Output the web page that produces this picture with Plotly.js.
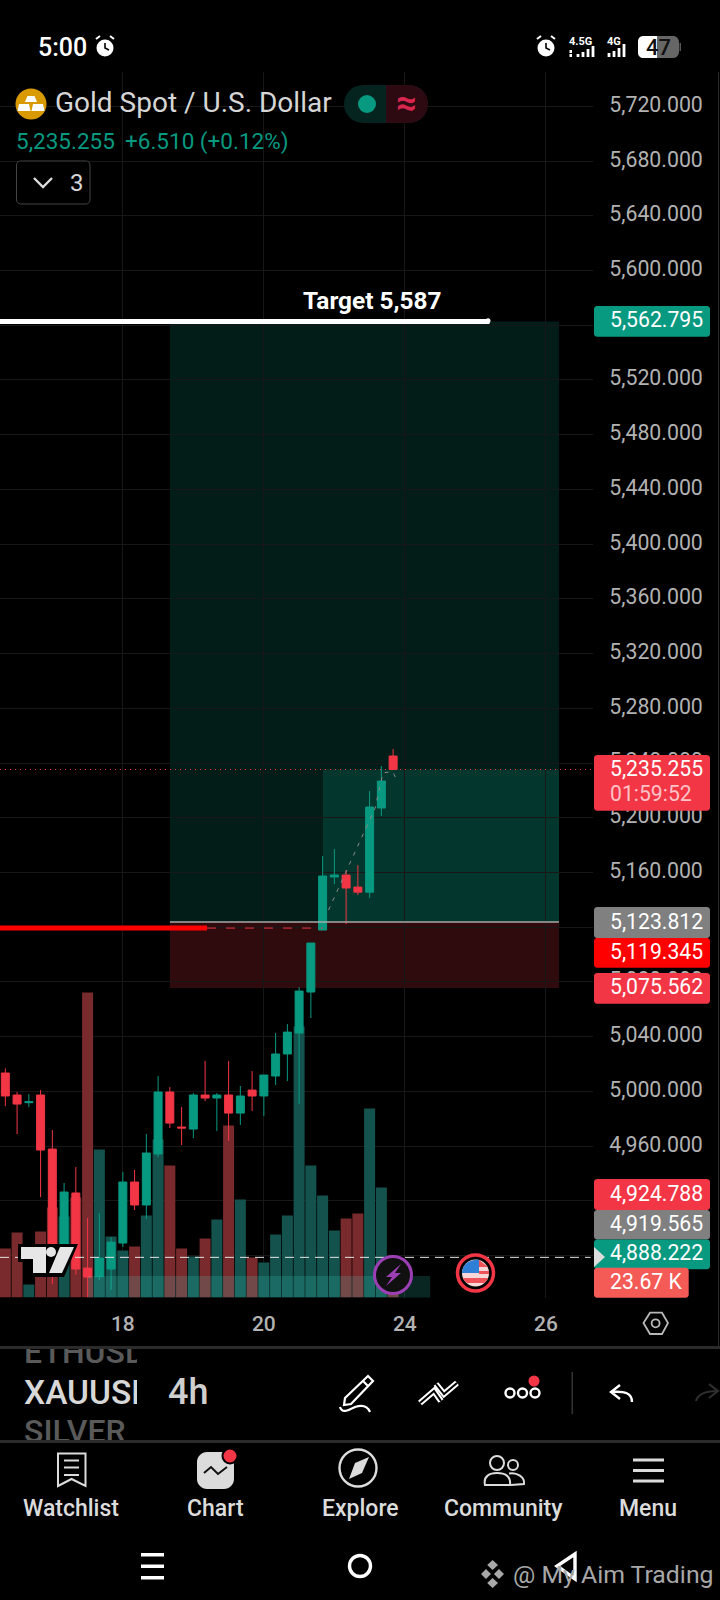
<!DOCTYPE html>
<html><head><meta charset="utf-8">
<script src="https://cdn.plot.ly/plotly-3.0.1.min.js"></script>
<style>html,body{margin:0;padding:0;background:#000}#c{width:720px;height:1600px}</style>
</head><body><div id="c"></div>
<script>
const candleIndex=[0,1,2,3,4,5,6,7,8,9,10,11,12,13,14,15,16,17,18,19,20,21,22,23,24,25,26,27,28,29,30,31,32,33];
const opens =[5013.4,4997.3,4991.7,4997.3,4957.8,4874.2,4925.7,4870.8,4864.5,4870.1,4889.1,4933.7,4916.9,4954.2,4999.5,4973.9,4972.4,4997.3,4995.1,4997.3,4984.1,5000.9,4996.6,5011.2,5027.3,5042.6,5072.6,5117.9,5156.7,5158.1,5149.3,5145.6,5207.1,5245.1];
const highs =[5016.8,4999.5,4998.0,5000.9,4971.7,4933.0,4944.7,4907.4,4911.0,4893.5,4941.0,4942.5,4968.8,5011.2,5003.1,4988.5,4998.7,5022.2,4998.7,5022.2,5003.9,5014.8,5011.9,5042.6,5049.2,5076.2,5108.4,5172.0,5177.1,5161.8,5165.4,5219.5,5237.8,5250.2];
const lows  =[4989.2,4968.8,4988.5,4922.7,4859.1,4868.0,4866.0,4849.4,4862.1,4854.7,4886.2,4913.2,4906.7,4952.0,4973.2,4960.7,4965.9,4992.9,4971.0,4963.7,4975.4,4985.6,4981.9,5004.6,5007.5,4990.7,5053.6,5117.9,5151.5,5122.3,5143.5,5141.3,5201.2,5235.255];
const closes=[4996.6,4990.7,4992.4,4957.1,4871.8,4926.4,4870.1,4864.2,4878.1,4889.8,4933.7,4916.9,4954.9,4999.5,4976.8,4973.2,4997.3,4995.1,4997.3,4984.1,4996.6,4996.6,5011.9,5027.3,5043.3,5073.3,5108.4,5157.4,5158.1,5148.6,5145.6,5207.8,5226.8,5235.255];
const volumes=[49,65,13,66,90,81,100,305,148,61,47,51,82,158,132,49,41,59,78,172,98,40,35,63,82,271,132,102,67,79,84,189,110,23.67];
const priceTicks=[4880,4920,4960,5000,5040,5080,5120,5160,5200,5240,5280,5320,5360,5400,5440,5480,5520,5560,5600,5640,5680,5720];
const priceTickLabels=priceTicks.map(v=>v.toLocaleString('en-US')+'.000');
const dayTicks=[10,22,34,46];
const dayLabels=['18','20','24','26'];
const targetPrice=5562.795, entryPrice=5123.812, stopPrice=5075.562, currentPrice=5235.255, redLevel=5119.345, whiteLevel=4878.65;
const projX=[27.5,31.46,32.14,32.96,33.36];
const projY=[5132.5,5206.9,5232.9,5233.6,5227];

const GREEN='#089981',RED='#f23645',TXT='#b2b2b2',NAV='#dcdcdc',FONT='Roboto',GRID='#171717';
const px=x=>x/720, py=y=>1-y/1600;
function P(d){let i=0;return d.replace(/-?\d+(\.\d+)?/g,m=>{const v=+m;return ((i++%2==0)?px(v):py(v)).toFixed(5)})}
const shapes=[],anns=[];
function S(d,fill,line,w){shapes.push({type:'path',xref:'paper',yref:'paper',layer:'above',path:P(d),fillcolor:fill||'rgba(0,0,0,0)',line:{color:line||'rgba(0,0,0,0)',width:line?(w||2):0}})}
function C(cx,cy,r,fill,line,w){shapes.push({type:'circle',xref:'paper',yref:'paper',layer:'above',x0:px(cx-r),x1:px(cx+r),y0:py(cy+r),y1:py(cy-r),fillcolor:fill||'rgba(0,0,0,0)',line:{color:line||'rgba(0,0,0,0)',width:line?(w||2):0}})}
function R(x0,y0,x1,y1,fill){shapes.push({type:'rect',xref:'paper',yref:'paper',layer:'above',x0:px(x0),x1:px(x1),y0:py(y1),y1:py(y0),fillcolor:fill,line:{width:0}})}
function RR(x0,y0,x1,y1,r,fill,line,w){const k=r*0.45;S(`M${x0+r},${y0} L${x1-r},${y0} C${x1-k},${y0} ${x1},${y0+k} ${x1},${y0+r} L${x1},${y1-r} C${x1},${y1-k} ${x1-k},${y1} ${x1-r},${y1} L${x0+r},${y1} C${x0+k},${y1} ${x0},${y1-k} ${x0},${y1-r} L${x0},${y0+r} C${x0},${y0+k} ${x0+k},${y0} ${x0+r},${y0} Z`,fill,line,w)}
function T(text,x,y,size,color,o){o=o||{};anns.push({text,x:px(x),y:py(y),xref:'paper',yref:'paper',xanchor:o.a||'left',yanchor:'middle',showarrow:false,font:{family:o.f||FONT,size,color,weight:o.w||400},borderpad:0})}
function M(x0,y0,x1,y1,col){anns.push({text:'&nbsp;',x:px(x0),y:py(y0),xref:'paper',yref:'paper',xanchor:'left',yanchor:'top',width:x1-x0,height:y1-y0,bgcolor:col||'#000',showarrow:false,borderpad:0,borderwidth:0,font:{size:1}})}

const xL=-0.4539,xR=50.01;
function box(x0,x1,y0,y1,fill){shapes.push({type:'rect',xref:'x',yref:'y2',layer:'below',x0,x1,y0,y1,fillcolor:fill,line:{width:0}})}
box(14.01,47.12,entryPrice,targetPrice,'rgba(8,153,129,0.19)');
box(27.03,47.12,entryPrice,currentPrice,'rgba(8,153,129,0.2)');
box(14.01,47.12,stopPrice,entryPrice,'rgba(242,54,69,0.2)');
function hl(x0,x1,y,color,width,dash,layer){shapes.push({type:'line',xref:'x',yref:'y2',layer:layer||'above',x0,x1,y0:y,y1:y,line:{color,width,dash:dash||'solid'}})}
hl(14.01,47.12,entryPrice,'#a8a8a8',1.5);
hl(xL,xR,currentPrice,RED,1,'1px,4px');
hl(xL,xR-0.2,whiteLevel,'#e6e6e6',1,'9px,6px');
hl(17.16,27,redLevel,RED,1,'9px,10px');
hl(xL,17.16,redLevel,'#ff0000',5);
hl(xL,41.2,targetPrice,'#ffffff',5);
C(488,320.7,2.5,'#fff');
shapes.push({type:'rect',xref:'x',yref:'paper',layer:'above',x0:7.04,x1:36.15,y0:py(1297.5),y1:py(1276),fillcolor:'rgba(70,255,235,0.15)',line:{width:0}});

const traces=[
 {type:'bar',x:candleIndex,y:volumes,xaxis:'x',yaxis:'y',width:0.936,hoverinfo:'skip',
  marker:{color:opens.map((o,i)=>closes[i]>=o?'#14524d':'#792a2c'),line:{width:0}}},
 {type:'candlestick',x:candleIndex,open:opens,high:highs,low:lows,close:closes,xaxis:'x',yaxis:'y2',hoverinfo:'skip',whiskerwidth:0,
  increasing:{line:{color:GREEN,width:1},fillcolor:GREEN},decreasing:{line:{color:RED,width:1},fillcolor:RED}},
 {type:'scatter',mode:'lines',x:projX,y:projY,xaxis:'x',yaxis:'y2',hoverinfo:'skip',line:{color:'#8a8a8a',width:1,dash:'4px,6px'}}
];

T('5:00',37,47,25,'#fff',{w:500});
function alarm(cx,cy){C(cx,cy+1,8.5,'#fff');S(`M${cx},${cy-4} L${cx},${cy+1} L${cx+4},${cy+3}`,null,'#000',1.6);S(`M${cx-9},${cy-8} L${cx-5},${cy-11}`,null,'#fff',2);S(`M${cx+9},${cy-8} L${cx+5},${cy-11}`,null,'#fff',2)}
alarm(105,47);alarm(546,47);
T('4.5G',568,42,11,'#fff',{w:700});T('4G',606,42,11,'#fff',{w:700});
[[578,54],[583,52],[588,49],[593,46]].forEach(b=>R(b[0]-1.4,b[1],b[0]+1.4,57,'#fff'));
R(569.5,50,572,53,'#fff');R(569.5,54,572,57,'#fff');
[[609,53],[614,51],[619,48],[624,44]].forEach(b=>R(b[0]-1.4,b[1],b[0]+1.4,57,'#fff'));
RR(638,36,679,58,6,'#666');
S('M657,36 L644,36 C640,36 638,38 638,42 L638,52 C638,56 640,58 644,58 L657,58 Z','#fff');
R(679.5,43,681,51,'#555');
T('47',658,47,22,'#111',{a:'center',w:500});

C(31,104,15.5,'#d99a00');
S('M27.5,96 L34.5,96 L37,102 L25,102 Z','#fff');S('M19,104 L29,104 L30.5,111 L17.5,111 Z','#fff');S('M33,104 L43,104 L44.5,111 L31.5,111 Z','#fff');
T('Gold Spot / U.S. Dollar',53.5,103,28,'#d6d6d6');
RR(344,85,428,123,19,'#06241f');
S('M386,85 L409,85 C420,85 428,94 428,104 C428,114 420,123 409,123 L386,123 Z','#2d0a12');
C(367,104,9,GREEN);
T('≈',406,103,36,'#d9264f',{a:'center',w:700});
T('5,235.255',14.5,141,22.5,GREEN);T('+6.510 (+0.12%)',124,141,22.5,GREEN);
RR(16.5,161,90,204,4,'#000','#444',1);
S('M34,178 L43,187 L52,178',null,'#ddd',2.4);
T('3',69,183,24,'#d6d6d6');
T('Target 5,587',372,300,24.4,'#fff',{a:'center',w:700});

function tag(x1,y0,y1,fill,text){RR(594,y0,x1,y1,3,fill);T(text,609,(y0+y1)/2-1.5,21.2,'#fff')}
tag(710,306,336.7,GREEN,'5,562.795');
RR(594,755,710,810.7,3,RED);T('5,235.255',609,768,21.2,'#fff');T('01:59:52',609,793,21.2,'#ffc2c7');
tag(710,907,938,'#808080','5,123.812');
tag(710,938,967.7,'#ff0000','5,119.345');
tag(710,973,1003.7,RED,'5,075.562');
tag(710,1179,1210,RED,'4,924.788');
tag(710,1210,1239.5,'#808080','4,919.565');
tag(710,1239.5,1269.3,GREEN,'4,888.222');
tag(688.7,1267.7,1297.7,'#f45b57','23.67 K');
S('M594,1247 L605,1257 L594,1267 Z','#dcdcdc');

S('M18,1244 L78,1244 L64,1277 L28,1277 L28,1262 L18,1262 Z','#000');
S('M21,1247 L46,1247 L46,1273 L33,1273 L33,1259 L21,1259 Z','#e6e6e6');
C(51,1252,5,'#e6e6e6');
S('M60,1247 L74,1247 L62,1273 L49,1273 Z','#e6e6e6');
C(393,1275,18.5,'#101010','#9c3fb5',3);
S('M401,1264 L386,1277 L392,1277 L386,1286 L401,1273 L395,1273 Z','#9c3fb5');
C(475.5,1273,18,'#000',RED,3.5);
C(475.5,1273,13.5,'#f7d7d7');
S('M479,1259.9 L488,1267 L479,1267 Z M479,1271 L489,1271 L489,1274 L479,1274 Z','#f0525a');
S('M463,1278 L488,1278 C487,1280 486,1282 484,1283 L467,1283 C465,1282 464,1280 463,1278 Z','#f0525a');
S('M479,1259.8 L479,1273 L462,1273 C462,1265 469,1259 479,1259.8 Z','#2f7fd6');

S('M643.5,1323 L650,1312.7 L662,1312.7 L668,1323 L662,1334 L650,1334 Z',null,'#b8b8b8',1.8);
C(655.6,1323.3,4,null,'#b8b8b8',1.8);
T('ETHUSD',22.5,1352,32,'#5a5a5a',{w:500});
T('XAUUSD',22.5,1392,33.5,'#d8d8d8',{w:500});
T('SILVER',22.5,1431,32,'#5a5a5a',{w:500});
M(137,1345,160,1445);
M(10,1333,160,1348);
M(10,1440,160,1452);
M(0,1345.5,720,1348,'#2b2b2b');
M(0,1439.5,720,1442,'#2b2b2b');
T('4h',167,1392,36,'#cfcfcf',{w:500});
R(718,72,719,1346,'#2b2b2b');

S('M368,1376 L373,1381 L351,1404 L344,1405 L345,1398 Z M363,1381 L368,1386',null,'#fff',2.2);
S('M340,1407 C342,1414 349,1410 355,1407 C361,1405 367,1405 370,1412',null,'#fff',2.2);
S('M420,1403 L434,1391 L441,1401 M436,1384 L444,1394 L457,1383',null,'#fff',6);
S('M420,1403 L434,1391 L441,1401 M436,1384 L444,1394 L457,1383',null,'#000',2);
C(510,1393,4.5,null,'#fff',2.4);C(522.5,1393,4.5,null,'#fff',2.4);C(535,1393,4.5,null,'#fff',2.4);
C(534,1381,5.5,RED);
R(571.5,1372,573,1414,'#333');
S('M620,1385 L611,1392 L620,1399 M611,1392 C625,1391 632,1393 632,1402',null,'#fff',2.4);
S('M696,1401 C698,1393 707,1391 718,1391 M709,1384 L718,1391 L709,1398',null,'#2e2e2e',2.2);

S('M58,1453.5 L85.5,1453.5 L85.5,1486 L71.5,1479 L58,1486 Z',null,NAV,2);
R(64,1459.5,79,1461.5,NAV);R(64,1466.5,79,1468.5,NAV);R(64,1474,79,1476,NAV);
RR(197,1452,234,1489,10,NAV);
S('M204,1473 L211,1467 L218,1474 L227,1467',null,'#111',2);
C(230,1456,8.5,'#000');C(230,1456,6.5,RED);
C(358,1468,18.5,null,NAV,2.4);
S('M369,1457 L362,1473 L349,1479 L355,1463 Z',NAV);
C(497,1463,7,null,NAV,2);C(513,1465,5,null,NAV,2);
S('M485,1485 C483,1476 490,1473 497,1473 C505,1473 511,1476 510,1485 Z',null,NAV,2);
S('M509,1473.5 C517,1472 525,1477 524,1484 L511,1485',null,NAV,2);
R(633,1458.5,664,1461.5,NAV);R(633,1469,664,1472,NAV);R(633,1479.5,664,1482.5,NAV);
T('Watchlist',71,1508.5,23,NAV,{a:'center',w:500});
T('Chart',215,1508.5,23,NAV,{a:'center',w:500});
T('Explore',360,1508.5,23,NAV,{a:'center',w:500});
T('Community',503,1508.5,23,NAV,{a:'center',w:500});
T('Menu',648,1508.5,23,NAV,{a:'center',w:500});

R(141,1553,164,1556.5,'#fff');R(141,1564.5,164,1568,'#fff');R(141,1576,164,1579.5,'#fff');
C(360,1566,10.5,null,'#fff',3.4);
S('M575,1554 L557,1566 L575,1579 Z',null,'#fff',3.4);
S('M492.6,1560 L498,1565 L492.6,1570 L487.2,1565 Z M481,1574 L486,1569 L491,1574 L486,1579 Z M504,1574 L499,1569 L494,1574 L499,1579 Z M492.6,1578 L498,1583 L492.6,1588 L487.2,1583 Z','#a8a8a8');
T('@ My Aim Trading',512,1574,24.8,'#a8a8a8');

const layout={
 width:720,height:1600,margin:{l:0,r:0,t:0,b:0},paper_bgcolor:'#000',plot_bgcolor:'#000',showlegend:false,
 boxgap:0.32,boxgroupgap:0,bargap:0.064,
 xaxis:{domain:[0,593/720],range:[xL,xR],tickmode:'array',tickvals:dayTicks,ticktext:dayLabels,showgrid:true,gridcolor:GRID,gridwidth:1,zeroline:false,showline:false,
   rangeslider:{visible:false},ticks:'outside',ticklen:7,tickcolor:'rgba(0,0,0,0)',tickfont:{family:FONT,size:21,color:TXT,weight:500},fixedrange:true},
 yaxis:{domain:[py(1297.5),py(72)],range:[0,1225.5],showgrid:false,zeroline:false,showticklabels:false,ticks:'',showline:false,fixedrange:true},
 yaxis2:{overlaying:'y',side:'right',anchor:'x',range:[4849.3,5745.1],tickmode:'array',tickvals:priceTicks,ticktext:priceTickLabels,showgrid:true,gridcolor:GRID,gridwidth:1,zeroline:false,showline:false,
   ticks:'outside',ticklen:11,tickcolor:'rgba(0,0,0,0)',tickfont:{family:FONT,size:21.3,color:TXT},ticklabelshift:-2,fixedrange:true},
 shapes,annotations:anns
};
Plotly.newPlot('c',traces,layout,{displayModeBar:false,staticPlot:true});
</script></body></html>
